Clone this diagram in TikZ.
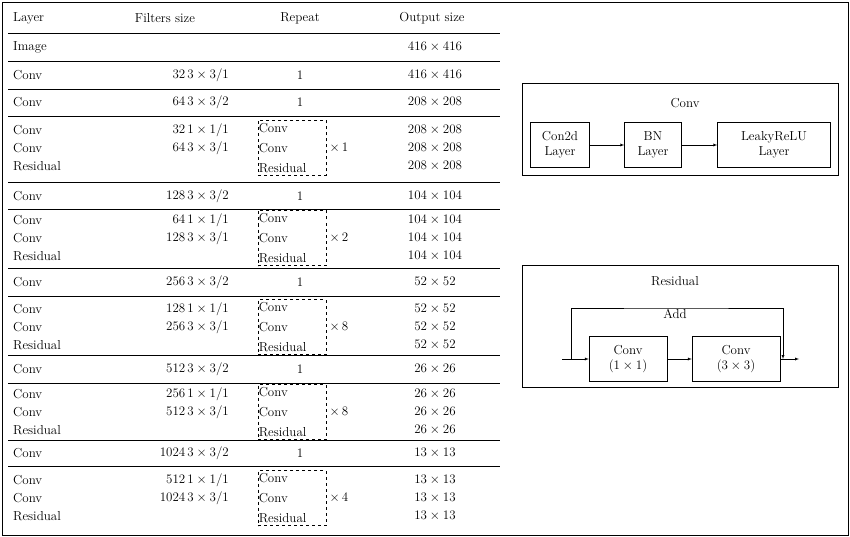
\RequirePackage{fix-cm}
\documentclass[tikz,border=0pt]{standalone}
\usepackage{tikz}
\usetikzlibrary{positioning}
\begin{document}
\begin{tikzpicture}[x=1pt,y=-1pt,font=\fontsize{13}{14}\selectfont]
  \tikzstyle{every node}=[inner sep=1pt]
  \tikzstyle{lbl}=[anchor=west]
  \tikzstyle{flt}=[anchor=east]
  \tikzstyle{blk}=[draw,minimum height=45pt,align=center,font=\fontsize{13}{15}\selectfont]
  \tikzstyle{rep}=[draw,dashed,thick,minimum width=68pt,minimum height=55pt]
  \useasboundingbox (0,0) rectangle (850,537);
  \draw[thick] (2,2) rectangle (848,535);

  %% Table header
  \node[lbl] (hl) at (12,18) {Layer};
  \node (hf) at (165,18) {Filters size};
  \node (hr) at (300,18) {Repeat};
  \node (ho) at (432,18) {Output size};
  \draw[thick] (8,33) -- (500,33);
  \foreach \y in {61,89,116,182,209,268,296,355,383,440,466}
    \draw (8,\y) -- (500,\y);

  %% Single rows
  \node[lbl] (img) at (12,47) {Image};
  \node (imgo) at (435,47) {$416\times416$};
  \foreach \y/\f/\s/\o/\n in {75/32/1/416/a,102/64/2/208/b,196/128/2/104/c,282/256/2/52/d,369/512/2/26/e,453/1024/2/13/f} {
    \node[lbl] (l\n) at (12,\y) {Conv};
    \node[flt] (f\n) at (230,\y) {\f\,$3\times3/\s$};
    \node (r\n) at (300,\y) {1};
    \node (o\n) at (435,\y) {$\o\times\o$};
  }

  %% Residual blocks
  \foreach \y/\fa/\fb/\o/\k/\n in {130/32/64/208/1/a,220/64/128/104/2/b,309/128/256/52/8/c,394/256/512/26/8/d,480/512/1024/13/4/e} {
    \node[lbl] (ba\n) at (12,\y) {Conv};
    \node[lbl] (bb\n) at (12,\y+18) {Conv};
    \node[lbl] (bc\n) at (12,\y+36) {Residual};
    \node[flt] (fa\n) at (230,\y) {\fa\,$1\times1/1$};
    \node[flt] (fb\n) at (230,\y+18) {\fb\,$3\times3/1$};
    \node[rep] (box\n) at (292,\y+18) {};
    \node[lbl] at (box\n.north west) [yshift=-8pt] {Conv};
    \node[lbl] at (box\n.west) {Conv};
    \node[lbl] at (box\n.south west) [yshift=8pt] {Residual};
    \node[right=2pt of box\n] {$\times\,\k$};
    \foreach \d in {0,18,36}
      \node at (435,\y+\d) {$\o\times\o$};
  }

  %% Conv block
  \node[draw,thick,minimum width=316pt,minimum height=92pt] (convbox) at (680,129) {};
  \node (convt) at (685,103) {Conv};
  \node[blk,minimum width=59pt] (c2d) at (560,145) {Con2d\\Layer};
  \node[blk,minimum width=57pt] (bn) at (653,145) {BN\\Layer};
  \node[blk,minimum width=113pt] (lrelu) at (774,145) {LeakyReLU\\Layer};
  \draw[-latex] (c2d) -- (bn);
  \draw[-latex] (bn) -- (lrelu);

  %% Residual block
  \node[draw,thick,minimum width=316pt,minimum height=122pt] (resbox) at (680,326) {};
  \node (rest) at (675,281) {Residual};
  \node[blk,minimum width=78pt] (cv1) at (628,359) {Conv\\$(1\times1)$};
  \node[blk,minimum width=88pt] (cv3) at (736,359) {Conv\\$(3\times3)$};
  \coordinate (in) at (562,359);
  \coordinate (split) at (571,359);
  \coordinate (join) at (783,359);
  \coordinate (out) at (799,359);
  \draw[-latex] (in) -- (cv1);
  \draw[-latex] (cv1) -- (cv3);
  \draw[-latex] (cv3) -- (out);
  \draw[-latex] (split) |- (675,308) node[below] {Add} -| (join);
\end{tikzpicture}
\end{document}
